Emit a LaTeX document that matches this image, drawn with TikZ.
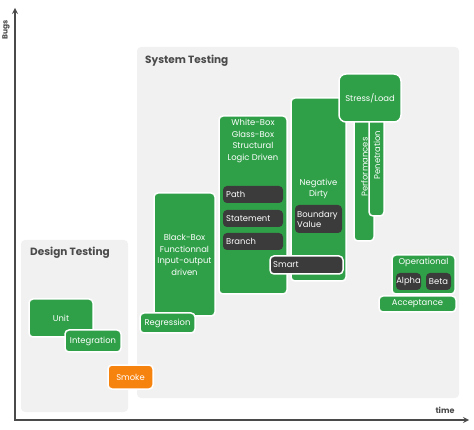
\documentclass[tikz,border=0pt]{standalone}
\usepackage{fontspec}
\setmainfont{Poppins}

\definecolor{tgreen}{HTML}{2FA048}
\definecolor{tdark}{HTML}{3B3B3B}
\definecolor{torange}{HTML}{F7830F}
\definecolor{tpanel}{HTML}{F1F1F1}
\definecolor{taxis}{HTML}{4A4A4A}

\tikzset{
	panel/.style={fill=tpanel, rounded corners=4pt},
	gbox/.style={fill=tgreen, draw=white, line width=1.5pt, rounded corners=4pt},
	dbox/.style={fill=tdark, rounded corners=4pt},
	obox/.style={fill=torange, draw=white, line width=1.5pt, rounded corners=4pt},
	lbl/.style={text=white, font=\fontsize{8.4}{11.5}\selectfont, inner sep=0pt, align=center},
	ttl/.style={text=taxis, font=\fontsize{10.5}{12}\selectfont\bfseries, anchor=west, inner sep=0pt},
	axis/.style={draw=taxis, line width=1.6pt, -stealth}
}

\begin{document}
\begin{tikzpicture}[x=1pt, y=-1pt]
	\useasboundingbox (0,0) rectangle (474,430);
	% axes
	\coordinate (o) at (15,420);
	\coordinate (ytop) at (15,8);
	\coordinate (xend) at (469,420);
	\draw[axis] (o) -- (ytop);
	\draw[axis] (14.2,420) -- (xend);
	\node[text=taxis, font=\fontsize{7.5}{9}\selectfont\bfseries, rotate=90, inner sep=0pt] (bugs) at (6,30) {Bugs};
	\node[text=taxis, font=\fontsize{8}{9}\selectfont\bfseries, inner sep=0pt] (time) at (445,410) {time};

	% panels
	\fill[panel] (21,240) rectangle (128,412);
	\fill[panel] (137,47) rectangle (459,398);
	\node[ttl] (design) at (30,253) {Design Testing};
	\node[ttl] (system) at (145,61) {System Testing};

	% design testing
	\draw[gbox] (29,299) rectangle (93,337);
	\node[lbl] (unit) at (61,318) {Unit};
	\draw[gbox] (65,330) rectangle (121,352);
	\node[lbl] (integ) at (93,341) {Integration};
	\draw[obox] (108,365) rectangle (153,389);
	\node[lbl] (smoke) at (130.5,377) {Smoke};

	% black box
	\draw[gbox] (154,193) rectangle (215,316);
	\node[lbl] (black) at (184.5,255) {Black-Box\\Functionnal\\Input-output\\driven};
	\draw[gbox] (140,313) rectangle (195,333);
	\node[lbl] (regr) at (167.5,323) {Regression};

	% white box
	\draw[gbox] (219,116) rectangle (287,294);
	\node[lbl] (white) at (253,141) {White-Box\\Glass-Box\\Structural\\Logic Driven};
	\foreach \y/\t/\n in {186/Path/path, 210/Statement/stmt, 233/Branch/branch} {
		\fill[dbox] (223,\y) rectangle (283,\y+17);
		\node[lbl, anchor=west] (\n) at (226,\y+8.5) {\t};
	}

	% negative
	\draw[gbox] (291,98) rectangle (346,281);
	\node[lbl] (neg) at (318.5,189) {Negative\\Dirty};
	\fill[dbox] (295,205) rectangle (342,233);
	\node[lbl, anchor=west, align=left, font=\fontsize{8.4}{10}\selectfont] (bound) at (297,219) {Boundary\\Value};
	\draw[dbox, draw=white, line width=1.5pt] (270,256) rectangle (343,274);
	\node[lbl, anchor=west] (smart) at (273,265) {Smart};

	% stress
	\draw[gbox] (354,115) rectangle (374,241);
	\node[lbl, rotate=90] (perf) at (364.5,167) {Performances};
	\draw[gbox] (369,115) rectangle (384,216);
	\node[lbl, rotate=90] (pene) at (377,155) {Penetration};
	\draw[gbox, rounded corners=7pt] (339,74) rectangle (401,122);
	\node[lbl] (stress) at (370,98) {Stress/Load};

	% acceptance
	\draw[gbox] (392,255) rectangle (455,294);
	\node[lbl] (oper) at (423.5,262.5) {Operational};
	\fill[dbox] (396,273) rectangle (421,290);
	\node[lbl] (alpha) at (408.5,281.5) {Alpha};
	\fill[dbox] (426,273) rectangle (451,290);
	\node[lbl] (beta) at (438.5,281.5) {Beta};
	\draw[gbox] (379,296) rectangle (456,312);
	\node[lbl] (accept) at (417.5,304) {Acceptance};
\end{tikzpicture}
\end{document}
